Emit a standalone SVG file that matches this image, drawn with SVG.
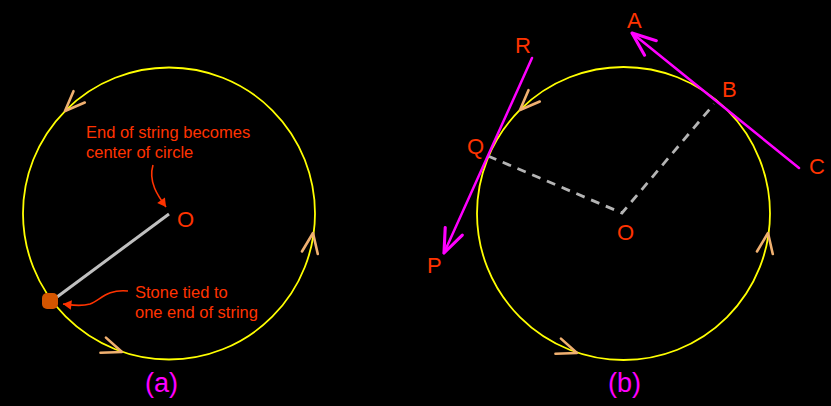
<svg xmlns="http://www.w3.org/2000/svg" width="831" height="406" viewBox="0 0 831 406">
<style>
.circ{fill:none;stroke:#ffff00;stroke-width:1.8}
.dir{fill:none;stroke:#f0b070;stroke-width:2.6;stroke-linecap:round;stroke-linejoin:round}
.lbl{font-family:"Liberation Sans",Arial,sans-serif;font-size:22px;fill:#ff3300}
.note{font-family:"Liberation Sans",Arial,sans-serif;font-size:16.5px;fill:#ff3300}
.cap{font-family:"Liberation Sans",Arial,sans-serif;font-size:27px;fill:#ff00ff}
.tan{fill:none;stroke:#ff00ff;stroke-width:2.5;stroke-linecap:round}
.rad{fill:none;stroke:#b4b4b4;stroke-width:2.8;stroke-dasharray:9,7}
.call{fill:none;stroke:#ff3300;stroke-width:1.6}
</style>
<defs>
<path id="chev" class="dir" d="M-20,-8 L0,0 L-20,8"/>
<marker id="mArr" markerUnits="userSpaceOnUse" markerWidth="30" markerHeight="30" viewBox="-22 -11 24 22" refX="0" refY="0" orient="auto">
<path d="M-19,-7.5 L0,0 L-19,7.5" fill="none" stroke="#ff00ff" stroke-width="2.5" stroke-linecap="round" stroke-linejoin="round"/>
</marker>
<marker id="mCall" markerUnits="userSpaceOnUse" markerWidth="12" markerHeight="12" viewBox="-8 -5 9 10" refX="0" refY="0" orient="auto">
<path d="M-7,-4 L0,0 L-7,4 Z" fill="#ff3300"/>
</marker>
</defs>
<rect width="831" height="406" fill="#000"/>

<g id="diagram-a">
<circle class="circ" cx="169" cy="213.5" r="146"/>
<use href="#chev" transform="translate(65,111) rotate(135)"/>
<use href="#chev" transform="translate(313,233) rotate(-81)"/>
<use href="#chev" transform="translate(122,352) rotate(20)"/>
<line x1="57" y1="297" x2="169" y2="214" stroke="#c0c0c0" stroke-width="3"/>
<rect x="42" y="293" width="16" height="16" rx="5" fill="#d45500"/>
<text class="lbl" x="177" y="227">O</text>
<text class="note" x="86" y="138">End of string becomes</text>
<text class="note" x="86" y="158">center of circle</text>
<text class="note" x="135" y="298">Stone tied to</text>
<text class="note" x="135" y="318">one end of string</text>
<text class="cap" x="145" y="392">(a)</text>
</g>

<g id="diagram-b">
<circle class="circ" cx="623.5" cy="213.5" r="146.5"/>
<use href="#chev" transform="translate(520,110) rotate(135)"/>
<use href="#chev" transform="translate(768,233) rotate(-81)"/>
<use href="#chev" transform="translate(577,353) rotate(20)"/>
<text class="lbl" x="515" y="53">R</text>
<text class="lbl" x="627" y="28">A</text>
<text class="lbl" x="722" y="97">B</text>
<text class="lbl" x="809" y="174">C</text>
<text class="lbl" x="467" y="154">Q</text>
<text class="lbl" x="617" y="240">O</text>
<text class="lbl" x="427" y="273">P</text>
<text class="cap" x="608" y="392">(b)</text>
</g>

<g id="connectors">
<path class="call" d="M153,165 C148,182 158,196 166,207" marker-end="url(#mCall)"/>
<path class="call" d="M128,291 C106,289 101,300 90,304 C80,307 72,305 63,304" marker-end="url(#mCall)"/>
<polyline class="rad" points="488,156 622,213 714,104"/>
<line class="tan" x1="532" y1="58" x2="444" y2="253" marker-end="url(#mArr)"/>
<line class="tan" x1="799" y1="168" x2="632" y2="33" marker-end="url(#mArr)"/>
</g>
</svg>
